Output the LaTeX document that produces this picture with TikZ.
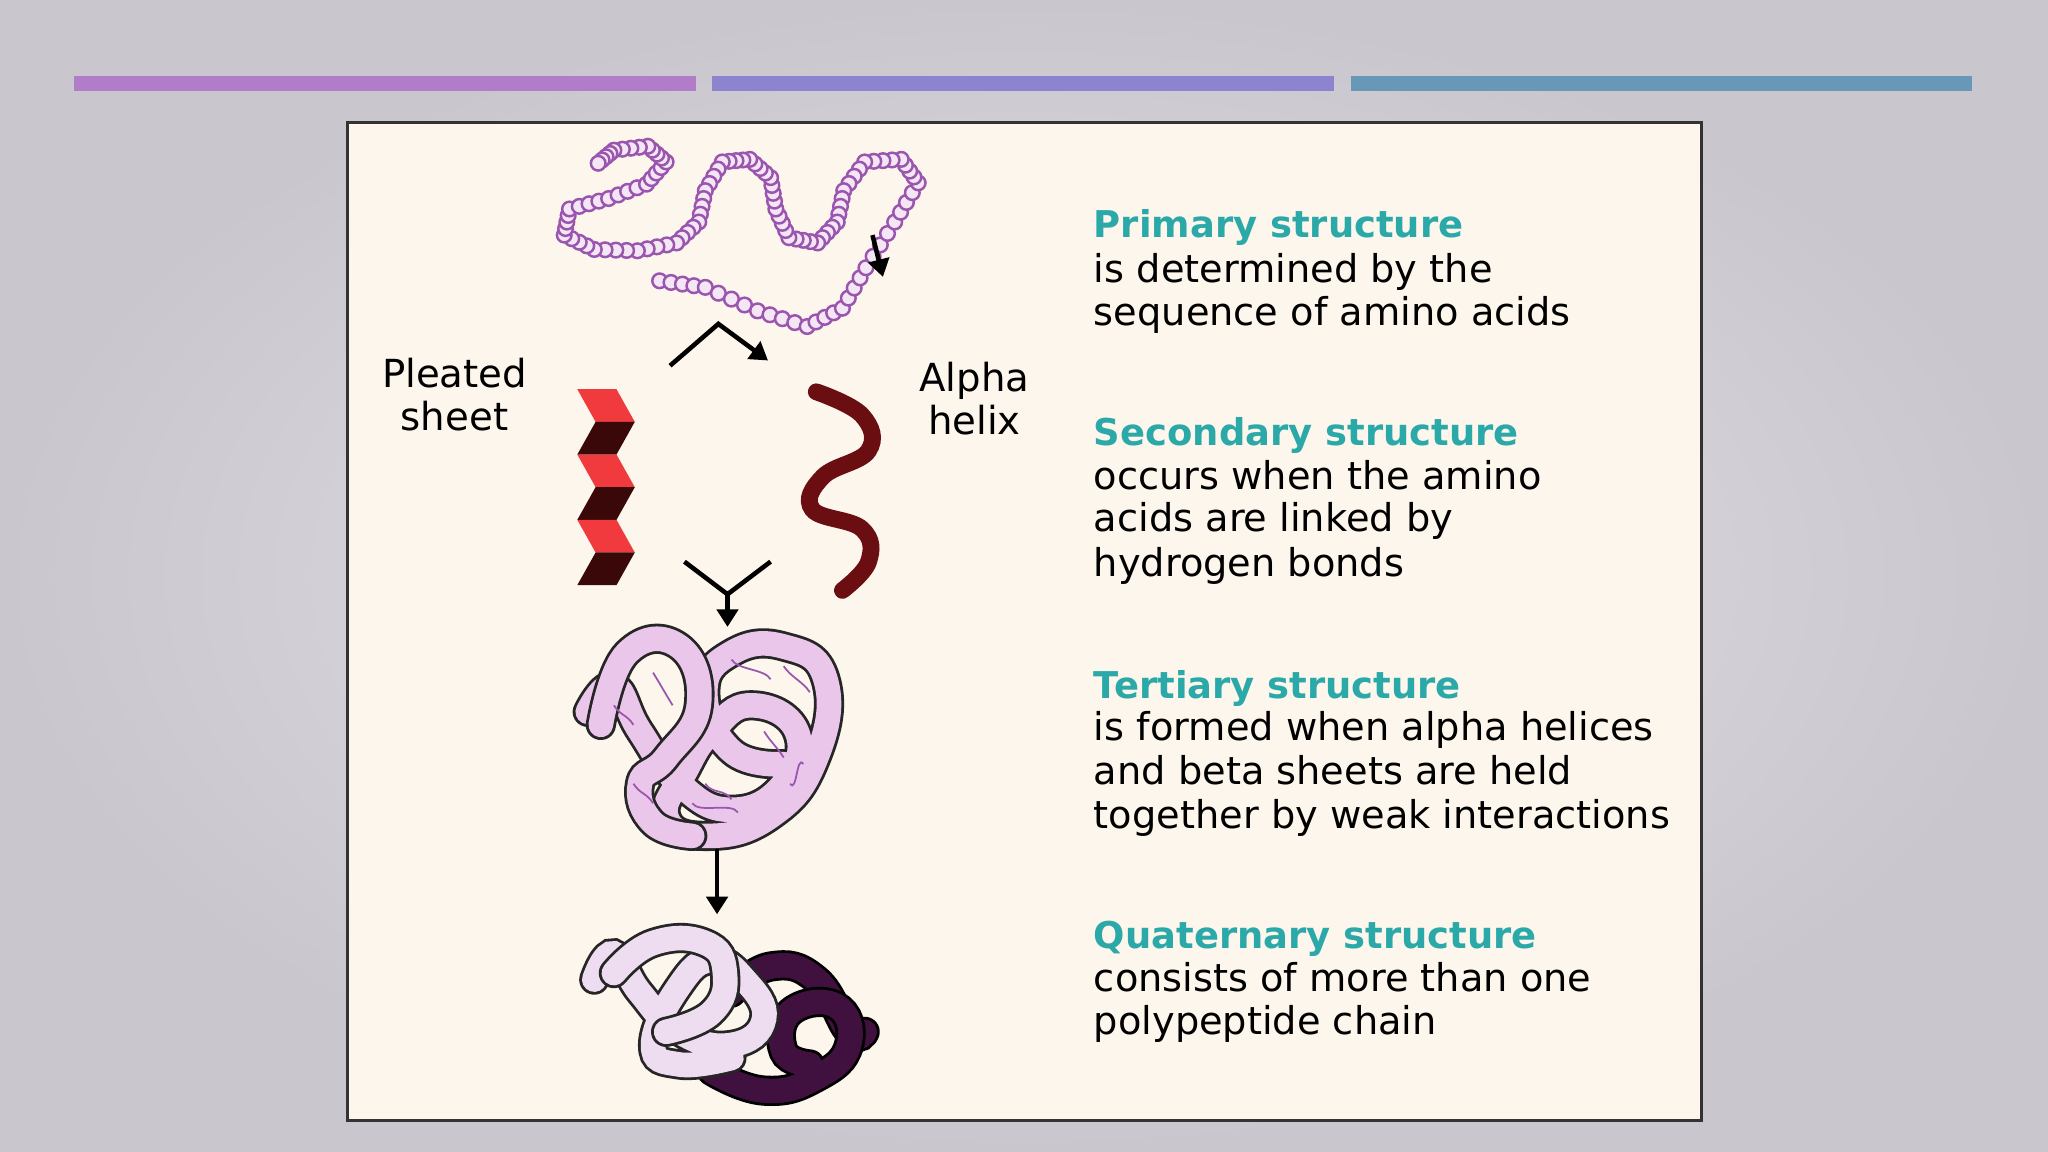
\documentclass[tikz,border=0pt]{standalone}
\usepackage{fontspec}
\setmainfont{DejaVu Sans}
\usetikzlibrary{arrows.meta}
\definecolor{teal1}{HTML}{2BA9A9}
\definecolor{cream}{HTML}{FCF6EC}
\definecolor{bead}{HTML}{9A55AE}
\definecolor{beadfill}{HTML}{F4E6F4}
\definecolor{redS}{HTML}{F03A3E}
\definecolor{darkS}{HTML}{3A0808}
\definecolor{helix}{HTML}{6A0E12}
\definecolor{pinkT}{HTML}{EBC6EB}
\definecolor{lavQ}{HTML}{EEDDF0}
\definecolor{darkQ}{HTML}{40103E}
\definecolor{bgin}{HTML}{E4E2E7}
\definecolor{bgout}{HTML}{CAC6CE}
\tikzset{
 x=0.01306cm,y=-0.01306cm,
 bar/.style={line width=4.2pt},
 title/.style={anchor=base west,inner sep=0pt,text=teal1,font=\bfseries\fontsize{10.5}{12}\selectfont},
 body/.style={anchor=base west,inner sep=0pt,font=\fontsize{10.9}{12}\selectfont},
 lbl/.style={align=center,font=\fontsize{11}{12.3}\selectfont},
 arr/.style={line width=1.3pt,-{Triangle[length=5pt,width=6pt]}},
 ln/.style={line width=1.3pt},
 beadst/.style={draw=bead,fill=beadfill,line width=0.7pt},
 tubeT/.style={line width=7pt,draw=pinkT,line cap=round,preaction={draw=black!85,line width=8.6pt,line cap=round}},
 tubeL/.style={line width=7pt,draw=lavQ,line cap=round,preaction={draw=black!85,line width=8.6pt,line cap=round}},
 tubeD/.style={line width=7pt,draw=darkQ,line cap=round,preaction={draw=black,line width=8.6pt,line cap=round}}
}
\begin{document}
\begin{tikzpicture}
\shade[inner color=bgin,outer color=bgout] (0,0) rectangle (1568,882);
\useasboundingbox (0,0) rectangle (1568,882);
\draw[bar,draw={rgb,255:red,178;green,125;blue,200}] (57,64)--(533,64);
\draw[bar,draw={rgb,255:red,140;green,132;blue,206}] (545,64)--(1021,64);
\draw[bar,draw={rgb,255:red,104;green,152;blue,184}] (1034,64)--(1510,64);
\filldraw[fill=cream,draw=black!80,line width=0.8pt] (266,94) rectangle (1303,858);
% texts
\node[title] (t1) at (837,182) {Primary structure};
\node[body] (b1a) at (837,216) {is determined by the};
\node[body] (b1b) at (837,249) {sequence of amino acids};
\node[title] (t2) at (837,341) {Secondary structure};
\node[body] (b2a) at (837,375) {occurs when the amino};
\node[body] (b2b) at (837,407) {acids are linked by};
\node[body] (b2c) at (837,441) {hydrogen bonds};
\node[title] (t3) at (837,535) {Tertiary structure};
\node[body] (b3a) at (837,567) {is formed when alpha helices};
\node[body] (b3b) at (837,601) {and beta sheets are held};
\node[body] (b3c) at (837,634) {together by weak interactions};
\node[title] (t4) at (837,726) {Quaternary structure};
\node[body] (b4a) at (837,759) {consists of more than one};
\node[body] (b4b) at (837,792) {polypeptide chain};
\node[lbl] (ps) at (348,302) {Pleated\\sheet};
\node[lbl] (ah) at (746,305) {Alpha\\helix};
% bead chain
\foreach \x/\y [remember=\x as \px (initially 505), remember=\y as \py (initially 215)] in {540/220,580/238,618/250,645/236,663/205,685/170,703/140,690/122,662/124,646/146,641/170,626/186,604/182,594/160,590/136,574/122,553/124,540/146,535/170,518/186,488/192,455/191,432/180,436/160,466/152,495/141,510/124,496/112,470/115,458/125}{
  \foreach \t in {0,0.25,0.5,0.75}{\filldraw[beadst] ({\px+\t*(\x-\px)},{\py+\t*(\y-\py)}) circle (5.6);}
}
\filldraw[beadst] (458,125) circle (5.6);
\coordinate (ha) at (668,180); \coordinate (hb) at (676,212);
\draw[arr] (ha)--(hb);
% top fork
\coordinate (f1) at (513,280); \coordinate (f2) at (550,248); \coordinate (f3) at (588,276);
\draw[arr] (f1)--(f2)--(f3);
% pleated sheet
\foreach \i in {0,...,5}{
 \pgfmathsetmacro{\ya}{298+25*\i}\pgfmathsetmacro{\yb}{\ya+25}
 \ifodd\i \def\xa{471}\def\xb{457}\def\cc{darkS}\else \def\xa{457}\def\xb{471}\def\cc{redS}\fi
 \fill[\cc] (\xa-15,\ya)--(\xa+15,\ya)--(\xb+15,\yb)--(\xb-15,\yb)--cycle;
}
% helix
\draw[helix,line width=4.8pt,line cap=round] plot[smooth,tension=0.7] coordinates {(625,300)(660,318)(665,345)(630,365)(622,390)(660,405)(665,430)(645,452)};
% bottom fork
\coordinate (g1) at (524,430); \coordinate (g2) at (557,455); \coordinate (g3) at (590,430); \coordinate (g4) at (557,480);
\draw[ln] (g1)--(g2)--(g3);
\draw[arr] (g2)--(g4);
% tertiary
\draw[tubeT] plot[smooth,tension=0.8] coordinates {(450,545)(470,525)(490,560)(520,600)(560,620)(600,600)(610,560)(575,540)(545,560)(525,590)(510,625)(540,640)(590,625)(625,580)(632,520)(600,495)(560,500)(540,530)(560,575)(600,585)};
\draw[tubeT] plot[smooth,tension=0.8] coordinates {(460,555)(480,500)(520,495)(535,540)(510,580)(490,600)(500,630)(530,640)};
\foreach \a/\b/\c/\d in {560/505/590/520,585/560/600/580,500/515/515/540,530/615/565/622,470/540/485/555,600/510/620/530,540/600/560/612,605/600/615/585,485/600/500/615}
 \draw[bead,line width=0.5pt] (\a,\b) .. controls +(5,8) and +(-5,-8) .. (\c,\d);
\coordinate (m1) at (549,650); \coordinate (m2) at (549,700);
\draw[arr] (m1)--(m2);
% quaternary
\draw[tubeD] plot[smooth,tension=0.8] coordinates {(560,760)(590,740)(625,750)(650,790)(662,790)};
\draw[tubeD] plot[smooth,tension=0.8] coordinates {(545,820)(585,835)(625,825)(650,800)(640,770)(605,775)(600,805)(620,815)};
\draw[tubeL] plot[smooth,tension=0.8] coordinates {(455,750)(470,730)(490,760)(520,790)(560,800)(585,780)(570,750)(545,735)(520,755)(500,800)(520,815)(560,810)};
\draw[tubeL] plot[smooth,tension=0.8] coordinates {(470,745)(500,722)(540,722)(555,745)(545,775)(510,790)};
\end{tikzpicture}
\end{document}
